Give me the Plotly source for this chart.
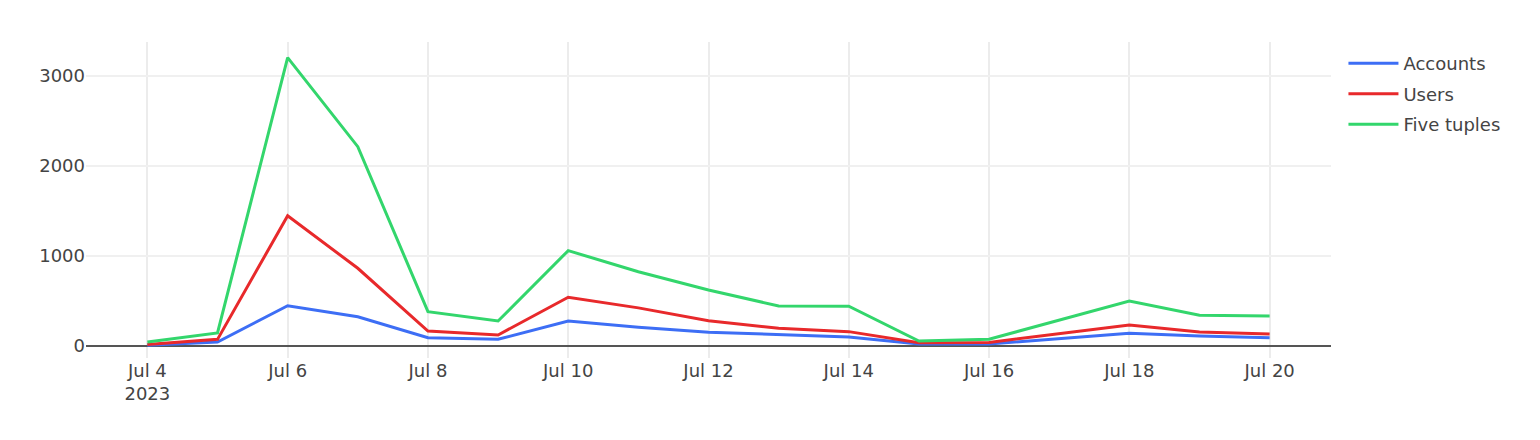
import plotly.graph_objects as go

dates = ["2023-07-04", "2023-07-05", "2023-07-06", "2023-07-07", "2023-07-08",
         "2023-07-09", "2023-07-10", "2023-07-11", "2023-07-12", "2023-07-13",
         "2023-07-14", "2023-07-15", "2023-07-16", "2023-07-18", "2023-07-19",
         "2023-07-20"]

accounts = [5, 40, 444, 322, 89, 71, 274, 204, 149, 119, 97, 18, 18, 138, 108, 89]
users = [12, 70, 1444, 860, 163, 119, 538, 420, 278, 193, 156, 33, 36, 230, 152, 130]
five_tuples = [40, 141, 3200, 2211, 378, 274, 1056, 822, 619, 441, 438, 52, 71, 497, 338, 330]

series = [
    ("Accounts", accounts, "#3d6ef5"),
    ("Users", users, "#e8292b"),
    ("Five tuples", five_tuples, "#33d66c"),
]

fig = go.Figure()
for name, vals, color in series:
    fig.add_trace(go.Scatter(x=dates, y=vals, mode="lines", name=name,
                             legendgroup=name,
                             line=dict(color=color, width=3)))

# page body adds ~8px offset, so margins are shifted to compensate
fig.update_layout(
    width=1540, height=440,
    margin=dict(l=78, r=217, t=34, b=90),
    paper_bgcolor="white", plot_bgcolor="white",
    font=dict(family="DejaVu Sans", size=18, color="#444"),
    legend=dict(x=1.01, y=0.99, font=dict(size=18),
                itemwidth=50, tracegroupgap=4),
)
fig.update_xaxes(range=["2023-07-03 03:00", "2023-07-20 21:00"],
                 showgrid=True, gridcolor="#ececec", gridwidth=1.5,
                 zeroline=False, showline=False)
fig.update_yaxes(range=[-137, 3374], dtick=1000,
                 showgrid=True, gridcolor="#f0f0f0", gridwidth=1.5,
                 zeroline=True, zerolinecolor="#555", zerolinewidth=1.5,
                 showline=False)

fig.write_html("out.html")
